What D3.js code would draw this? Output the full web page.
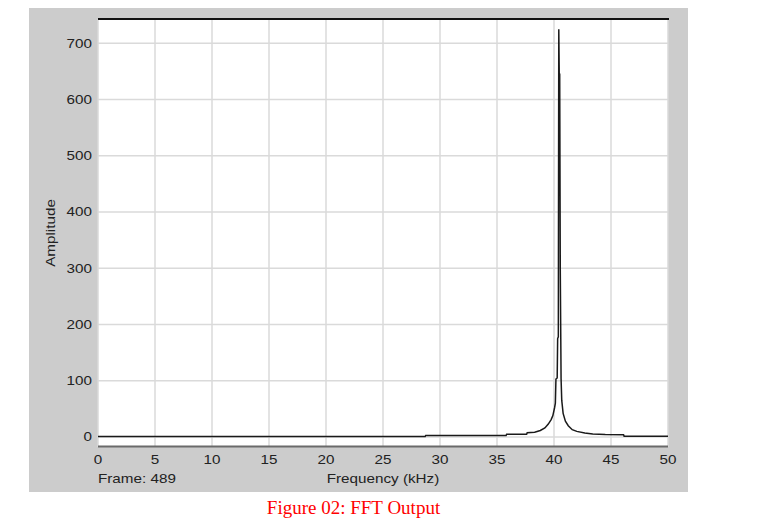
<!DOCTYPE html>
<html>
<head>
<meta charset="utf-8">
<script src="https://cdn.jsdelivr.net/npm/d3@7"></script>
<style>
  html, body { margin: 0; padding: 0; background: #ffffff; }
  svg { display: block; }
</style>
</head>
<body>
<svg id="chart" width="764" height="520"></svg>
<script>
// ---- data ----
const freqKHz = [0, 28.7, 28.75, 35.8, 35.85, 37.6, 37.65, 38.3, 38.8, 39.2, 39.5, 39.75, 39.9, 40.05, 40.12, 40.17, 40.28, 40.32, 40.38, 40.42, 40.46, 40.5, 40.55, 40.62, 40.68, 40.8, 41.0, 41.25, 41.6, 42.0, 42.7, 43.4, 44.5, 46.1, 46.15, 50];
const amplitude = [1, 1, 2.8, 2.8, 5, 5, 7.5, 8.5, 11.5, 16, 23, 31, 38, 52, 60, 103, 105, 175, 178, 725, 645, 645, 300, 104, 65, 42, 28, 20, 13, 10, 7, 5.5, 4.5, 4, 1.5, 1.5];
const xTicks = [0, 5, 10, 15, 20, 25, 30, 35, 40, 45, 50];
const yTicks = [0, 100, 200, 300, 400, 500, 600, 700];
const xTitle = "Frequency (kHz)";
const yTitle = "Amplitude";
const frameLabel = "Frame: 489";
const caption = "Figure 02: FFT Output";

const svg = d3.select("#chart");
const plot = { left: 98, right: 668, top: 19, bottom: 447 };
const x = d3.scaleLinear().domain([0, 50]).range([plot.left, plot.right]);
const y = d3.scaleLinear().domain([-17.8, 743.2]).range([plot.bottom, plot.top]);
const sx = 1.27; // horizontal glyph stretch seen in the reference
const font = "'Liberation Sans', Arial, sans-serif";

// backgrounds
svg.append("rect").attr("x", 29).attr("y", 8).attr("width", 659).attr("height", 484).attr("fill", "#cccccc");
svg.append("rect").attr("x", plot.left).attr("y", plot.top).attr("width", plot.right - plot.left).attr("height", plot.bottom - plot.top).attr("fill", "#ffffff");

// gridlines
const grid = svg.append("g");
grid.selectAll("line.v").data(xTicks).join("line")
  .attr("x1", d => x(d)).attr("x2", d => x(d))
  .attr("y1", plot.top).attr("y2", plot.bottom)
  .attr("stroke", "#dadada").attr("stroke-width", 1.5);
grid.selectAll("line.h").data(yTicks).join("line")
  .attr("x1", plot.left).attr("x2", plot.right)
  .attr("y1", d => y(d)).attr("y2", d => y(d))
  .attr("stroke", "#dadada").attr("stroke-width", 1.5);

// borders
svg.append("line").attr("x1", plot.left).attr("x2", plot.right + 1).attr("y1", plot.top).attr("y2", plot.top)
  .attr("stroke", "#111").attr("stroke-width", 2);
svg.append("line").attr("x1", plot.left).attr("x2", plot.right).attr("y1", plot.bottom - 0.5).attr("y2", plot.bottom - 0.5)
  .attr("stroke", "#6a6a6a").attr("stroke-width", 2);

// data line
const pts = freqKHz.map((f, i) => [f, amplitude[i]]);
svg.append("path").datum(pts)
  .attr("fill", "none").attr("stroke", "#1a1a1a").attr("stroke-width", 1.5)
  .attr("stroke-linejoin", "miter")
  .attr("d", d3.line().x(d => x(d[0])).y(d => y(d[1])));

// y tick labels
svg.append("g").selectAll("text").data(yTicks).join("text")
  .attr("transform", d => `translate(92,${y(d)}) scale(${sx},1)`)
  .attr("dy", "0.36em").attr("text-anchor", "end")
  .attr("font-family", font).attr("font-size", 12).attr("fill", "#222")
  .text(d => d);

// x tick labels
svg.append("g").selectAll("text").data(xTicks).join("text")
  .attr("transform", d => `translate(${x(d)},464) scale(${sx},1)`)
  .attr("text-anchor", "middle")
  .attr("font-family", font).attr("font-size", 12).attr("fill", "#222")
  .text(d => d);

// titles
svg.append("text")
  .attr("transform", `translate(${(plot.left + plot.right) / 2},483) scale(${sx},1)`)
  .attr("text-anchor", "middle")
  .attr("font-family", font).attr("font-size", 12).attr("fill", "#222")
  .text(xTitle);
svg.append("text")
  .attr("transform", `translate(${plot.left},483) scale(${sx},1)`)
  .attr("text-anchor", "start")
  .attr("font-family", font).attr("font-size", 12).attr("fill", "#222")
  .text(frameLabel);
svg.append("text")
  .attr("transform", `translate(55,${(plot.top + plot.bottom) / 2}) rotate(-90) scale(${sx},1)`)
  .attr("text-anchor", "middle")
  .attr("font-family", font).attr("font-size", 12).attr("fill", "#222")
  .text(yTitle);

// caption
svg.append("text")
  .attr("x", 353.5).attr("y", 514)
  .attr("text-anchor", "middle")
  .attr("font-family", "'Liberation Serif', 'Times New Roman', serif").attr("font-size", 19).attr("fill", "#ff0000")
  .text(caption);
</script>
</body>
</html>
